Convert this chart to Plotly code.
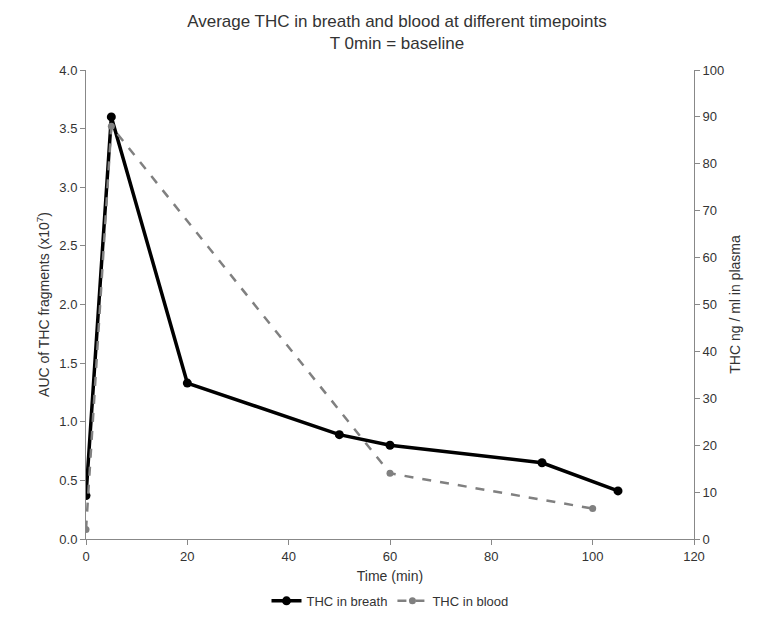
import plotly.graph_objects as go

breath_t = [0, 5, 20, 50, 60, 90, 105]
breath_auc = [0.37, 3.6, 1.33, 0.89, 0.80, 0.65, 0.41]
blood_t = [0, 5, 60, 100]
blood_thc = [2, 88, 14, 6.5]

ax = dict(showline=True, linecolor="#888", ticks="outside", ticklen=5, tickcolor="#888",
          showgrid=False, zeroline=False, automargin=False)

fig = go.Figure()
fig.add_trace(go.Scatter(x=breath_t, y=breath_auc, name="THC in breath", mode="lines+markers",
                         line=dict(color="black", width=3.5), marker=dict(size=9, color="black")))
fig.add_trace(go.Scatter(x=blood_t, y=blood_thc, name="THC in blood", mode="lines+markers", yaxis="y2",
                         line=dict(color="#808080", width=2.5, dash="dash"), marker=dict(size=7, color="#808080")))
fig.update_layout(
    width=778, height=627, plot_bgcolor="white", paper_bgcolor="white",
    font=dict(family="Liberation Sans, Arial", size=13, color="#333"),
    title=dict(text="Average THC in breath and blood at different timepoints<br>T 0min = baseline",
               x=0.5, y=0.97, font=dict(size=17)),
    margin=dict(l=78, r=92, t=62, b=96),
    xaxis=dict(range=[0, 120], dtick=20, title=dict(text="Time (min)", font=dict(size=14), standoff=8), **ax),
    yaxis=dict(range=[0, 4], dtick=0.5, tickformat=".1f",
               title=dict(text="AUC of THC fragments (x10<sup>7</sup>)", font=dict(size=14), standoff=6), **ax),
    yaxis2=dict(range=[0, 100], dtick=10, overlaying="y", side="right",
                title=dict(text="THC ng / ml in plasma", font=dict(size=14), standoff=6), **ax),
    legend=dict(orientation="h", x=0.5, xanchor="center", y=-0.1, yanchor="top", font=dict(size=13)),
)
fig.write_html("out.html")
